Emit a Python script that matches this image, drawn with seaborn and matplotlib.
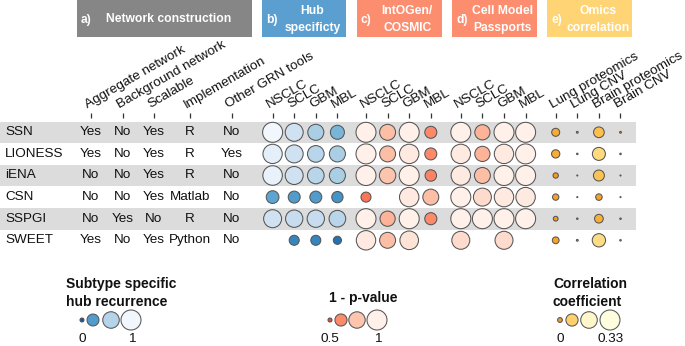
import numpy as np
import pandas as pd
import matplotlib
matplotlib.use("Agg")
import matplotlib.pyplot as plt
import seaborn as sns
from matplotlib.patches import Rectangle

# ---------------- data ----------------
methods = ["SSN", "LIONESS", "iENA", "CSN", "SSPGI", "SWEET"]

construction_cols = ["Aggregate network", "Background network", "Scalable",
                     "Implementation", "Other GRN tools"]
aggregate = ["Yes", "Yes", "No", "No", "No", "Yes"]
background = ["No", "No", "No", "No", "Yes", "No"]
scalable = ["Yes", "Yes", "Yes", "Yes", "No", "Yes"]
implementation = ["R", "R", "R", "Matlab", "R", "Python"]
other_grn = ["No", "Yes", "No", "No", "No", "No"]

subtypes = ["NSCLC", "SCLC", "GBM", "MBL"]
# b) hub specificity (subtype specific hub recurrence, 0..1)
hub_nsclc = [1.00, 0.93, 0.95, 0.38, 0.80, np.nan]
hub_sclc = [0.80, 0.80, 0.80, 0.33, 0.74, 0.22]
hub_gbm = [0.63, 0.68, 0.68, 0.33, 0.74, 0.22]
hub_mbl = [0.47, 0.63, 0.63, 0.29, 0.68, 0.13]

# c) IntOGen / COSMIC (1 - p-value)
int_nsclc = [1.00, 1.00, 1.00, 0.61, 1.00, 0.97]
int_sclc = [0.81, 0.81, 0.83, np.nan, 0.78, 0.81]
int_gbm = [1.00, 0.97, 1.00, 0.97, 1.00, 0.93]
int_mbl = [0.667, 0.667, 0.65, 0.81, 0.67, np.nan]

# d) Cell Model Passports (1 - p-value)
cmp_nsclc = [1.00, 0.97, 0.97, 1.00, 1.00, 0.90]
cmp_sclc = [0.78, 0.78, 0.81, 0.90, 1.00, np.nan]
cmp_gbm = [1.00, 0.97, 1.00, 0.97, 1.00, 0.90]
cmp_mbl = [1.00, 1.00, 1.00, 0.97, 1.00, np.nan]

# e) omics correlation (correlation coefficient)
omics_cols = ["Lung proteomics", "Lung CNV", "Brain proteomics", "Brain CNV"]
lung_prot = [0.036, 0.040, 0.005, 0.015, 0.000, 0.020]
lung_cnv = [-0.017, -0.018, -0.019, -0.019, -0.018, -0.017]
brain_prot = [0.080, 0.128, 0.085, 0.017, 0.046, 0.135]
brain_cnv = [-0.017, -0.018, -0.019, -0.019, -0.018, -0.018]

# legends
hub_leg_vals = [0, 0.33, 0.67, 1]
hub_leg_labels = ["0", "1"]
p_leg_vals = [0.5, 0.67, 0.83, 1]
p_leg_labels = ["0.5", "1"]
corr_leg_vals = [0, 0.11, 0.22, 0.33]
corr_leg_labels = ["0", "0.33"]

# ---------------- layout ----------------
W, H = 685, 346
plt.rcParams["font.family"] = ["Liberation Sans", "DejaVu Sans"]
fig = plt.figure(figsize=(W / 100, H / 100), dpi=100)
ax = fig.add_axes([0, 0, 1, 1])
ax.set_xlim(0, W)
ax.set_ylim(H, 0)
ax.axis("off")

row_y0, row_step = 132.3, 21.6
row_y = [row_y0 + row_step * i for i in range(len(methods))]
constr_x = [90.7, 122.7, 154.0, 190.0, 231.7]
col_step = 21.6
panel_start = {"hub": 272.6, "int": 366.0, "cmp": 460.8, "omics": 555.7}

# grey bands
for i in range(0, len(methods), 2):
    ax.add_patch(Rectangle((0, row_y[i] - row_step / 2), 636, row_step,
                           facecolor="#dcdcdc", edgecolor="none", zorder=0))

txt_kw = dict(fontsize=9.7, color="#111111", va="center")
# row labels
for y, m in zip(row_y, methods):
    ax.text(5, y, m, ha="left", **txt_kw)

# construction table
table = [aggregate, background, scalable, implementation, other_grn]
for x, colvals in zip(constr_x, table):
    for y, v in zip(row_y, colvals):
        ax.text(x, y, v, ha="center", **txt_kw)

# column labels + ticks
all_label_x = list(constr_x)
all_labels = list(construction_cols)
for key, cols in [("hub", subtypes), ("int", subtypes), ("cmp", subtypes), ("omics", omics_cols)]:
    for j, c in enumerate(cols):
        all_label_x.append(panel_start[key] + col_step * j)
        all_labels.append(c)
for x, lab in zip(all_label_x, all_labels):
    ax.text(x - 3.5, 108.5, lab, rotation=30, rotation_mode="anchor",
            ha="left", va="baseline", fontsize=9.7, color="#111111")
ax.vlines(all_label_x, 113, 117.5, color="#333333", lw=0.9)


def panel_df(key, cols, arrays):
    recs = []
    for j, (c, arr) in enumerate(zip(cols, arrays)):
        for i, v in enumerate(arr):
            if not np.isnan(v):
                recs.append({"px": panel_start[key] + col_step * j,
                             "py": row_y[i], "value": v})
    return pd.DataFrame(recs)


def px2s(d):
    return (d * 0.72) ** 2


edge = dict(edgecolor="#555555", linewidth=0.75, legend=False, ax=ax, zorder=3)

blues = plt.get_cmap("Blues_r")
reds = plt.get_cmap("Reds_r")
ylor = sns.blend_palette(["#f08a14", "#fdb83c", "#fee79a", "#ffffe0"], as_cmap=True)

hub_kw = dict(hue_norm=(-0.18, 1.04), palette=blues, size_norm=(0, 1),
              sizes=(px2s(4), px2s(20)))
p_kw = dict(hue_norm=(0.126, 1.027), palette=reds, size_norm=(0.5, 1),
            sizes=(px2s(4), px2s(20)))
c_kw = dict(hue_norm=(-0.03, 0.25), palette=ylor, size_norm=(-0.02, 0.33),
            sizes=(0, px2s(20)))

df_hub = panel_df("hub", subtypes, [hub_nsclc, hub_sclc, hub_gbm, hub_mbl])
df_int = panel_df("int", subtypes, [int_nsclc, int_sclc, int_gbm, int_mbl])
df_cmp = panel_df("cmp", subtypes, [cmp_nsclc, cmp_sclc, cmp_gbm, cmp_mbl])
df_om = panel_df("omics", omics_cols, [lung_prot, lung_cnv, brain_prot, brain_cnv])

sns.scatterplot(data=df_hub, x="px", y="py", hue="value", size="value", **hub_kw, **edge)
sns.scatterplot(data=df_int, x="px", y="py", hue="value", size="value", **p_kw, **edge)
sns.scatterplot(data=df_cmp, x="px", y="py", hue="value", size="value", **p_kw, **edge)
sns.scatterplot(data=df_om, x="px", y="py", hue="value", size="value", **c_kw, **edge)

# header boxes
headers = [
    (77, 252.3, "#868686", "a)", "Network construction"),
    (262.3, 346.5, "#5b9fd0", "b)", "Hub\nspecificty"),
    (357, 441.7, "#fc8d6f", "c)", "IntOGen/\nCOSMIC"),
    (452.3, 536.7, "#fc8d6f", "d)", "Cell Model\nPassports"),
    (547.3, 632, "#fed474", "e)", "Omics\ncorrelation"),
]
for x0, x1, col, tag, title in headers:
    ax.add_patch(Rectangle((x0, 0), x1 - x0, 37, facecolor=col,
                           edgecolor="none", zorder=1))
    ax.text(x0 + 4, 20.5, tag, ha="left", va="center", fontsize=8.7,
            fontweight="bold", color="white", zorder=2)
    cx = (x0 + 16 + x1) / 2 if tag != "a)" else 169
    ax.text(cx, 19.5, title, ha="center", va="center", fontsize=8.7,
            fontweight="bold", color="white", linespacing=1.5, zorder=2)

# legends
leg_y = 320
leg_specs = [
    ("Subtype specific\nhub recurrence", 66, 293, [82, 93, 111, 131], hub_leg_vals, hub_leg_labels, hub_kw),
    ("1 - p-value", 329, 298, [330, 341, 357, 377], p_leg_vals, p_leg_labels, p_kw),
    ("Correlation\ncoefficient", 553, 293, [560, 572, 589, 610], corr_leg_vals, corr_leg_labels, c_kw),
]
for title, tx, ty, xs, vals, labs, kw in leg_specs:
    ax.text(tx, ty, title, ha="left", va="center", fontsize=10,
            fontweight="bold", color="#111111", linespacing=1.45)
    ldf = pd.DataFrame({"px": xs, "py": [leg_y] * len(xs), "value": vals})
    sns.scatterplot(data=ldf, x="px", y="py", hue="value", size="value", **kw, **edge)
    ax.text(xs[0], 338.5, labs[0], ha="center", va="center", fontsize=9.7, color="#111111")
    ax.text(xs[-1] + 1, 338.5, labs[1], ha="center", va="center", fontsize=9.7, color="#111111")

fig.savefig("out.png", dpi=100, facecolor="white")
